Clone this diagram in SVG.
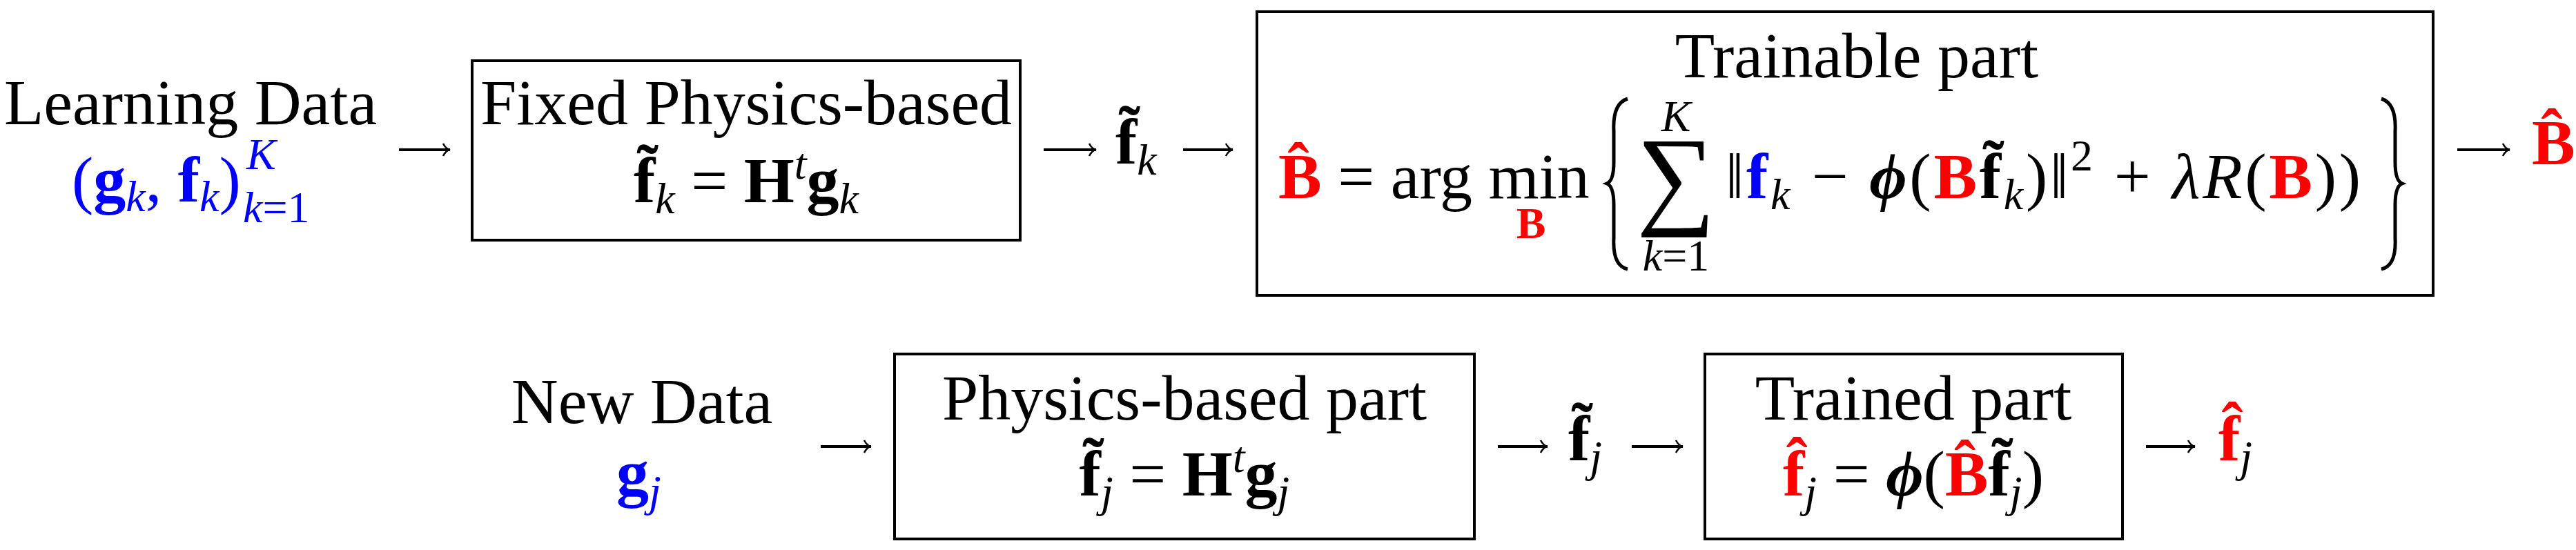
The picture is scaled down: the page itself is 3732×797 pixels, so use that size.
<svg xmlns="http://www.w3.org/2000/svg" width="3732" height="797" viewBox="0 0 3732 797">
<defs>
<marker id="ah" markerWidth="14" markerHeight="20" refX="12" refY="10" orient="auto" markerUnits="userSpaceOnUse">
<path d="M2,1 Q6,9 12,10 Q6,11 2,19" fill="none" stroke="#000" stroke-width="2.5"/>
</marker>
</defs>
<style>
text{font-family:"Liberation Serif","DejaVu Serif",serif;font-size:94px;fill:#000}
.b{font-weight:bold}.i{font-style:italic}.s{font-size:64px}
.blue{fill:#0000ff}.red{fill:#ff0000}
.box{fill:none;stroke:#000;stroke-width:4}
.arr{stroke:#000;stroke-width:4;fill:none;marker-end:url(#ah)}
.brace{fill:none;stroke:#000;stroke-width:5}
</style>
<g id="learning-data">
<text x="276" y="180" text-anchor="middle">Learning Data</text>
<text x="104" y="292" class="blue">(<tspan class="b">g</tspan><tspan class="i s" dy="14">k</tspan><tspan dy="-14">, </tspan><tspan class="b">f</tspan><tspan class="i s" dy="14">k</tspan><tspan dy="-14">)</tspan></text>
<text x="357" y="245" class="blue i s">K</text>
<text x="352" y="322" class="blue s"><tspan class="i">k</tspan>=1</text>
</g>
<g id="fixed-physics">
<rect class="box" x="684" y="88" width="794" height="260"/>
<text x="1081" y="180" text-anchor="middle">Fixed Physics-based</text>
<text x="1081" y="293" text-anchor="middle"><tspan class="b">f̃</tspan><tspan class="i s" dy="16">k</tspan><tspan dy="-16"> = </tspan><tspan class="b">H</tspan><tspan class="i s" dy="-34">t</tspan><tspan class="b" dy="34">g</tspan><tspan class="i s" dy="16">k</tspan></text>
</g>
<g id="ftilde-k">
<text x="1616" y="237"><tspan class="b">f̃</tspan><tspan class="i s" dy="16">k</tspan></text>
</g>
<g id="trainable">
<rect class="box" x="1821" y="17" width="1704" height="411"/>
<text x="2690" y="112" text-anchor="middle">Trainable part</text>
<text x="1852" y="287"><tspan class="b red">B̂</tspan><tspan> = arg min</tspan></text>
<text x="2218" y="345" class="b red s" text-anchor="middle">B</text>
<path class="brace" d="M2358,143 Q2336,150 2338,190 L2338,235 Q2338,262 2328,266 Q2338,270 2338,297 L2338,345 Q2336,385 2358,390"/>
<text x="2428" y="310" text-anchor="middle" style="font-size:160px">∑</text>
<text x="2428" y="190" text-anchor="middle" class="i s">K</text>
<text x="2428" y="392" text-anchor="middle" class="s"><tspan class="i">k</tspan>=1</text>
<text x="2500" y="287" textLength="920" lengthAdjust="spacing">‖<tspan class="b blue">f</tspan><tspan class="i s" dy="16">k</tspan><tspan dy="-16"> − </tspan><tspan class="b i">ϕ</tspan>(<tspan class="b red">B</tspan><tspan class="b">f̃</tspan><tspan class="i s" dy="16">k</tspan><tspan dy="-16">)‖</tspan><tspan class="s" dy="-40">2</tspan><tspan dy="40"> + </tspan><tspan class="i">λR</tspan>(<tspan class="b red">B</tspan>))</text>
<path class="brace" d="M3450,143 Q3472,150 3470,190 L3470,235 Q3470,262 3480,266 Q3470,270 3470,297 L3470,345 Q3472,385 3450,390"/>
</g>
<g id="bhat-out">
<text x="3668" y="238" class="b red">B̂</text>
</g>
<g id="new-data">
<text x="930" y="613" text-anchor="middle">New Data</text>
<text x="893" y="717" class="blue"><tspan class="b">g</tspan><tspan class="i s" dy="16">j</tspan></text>
</g>
<g id="physics-part">
<rect class="box" x="1296" y="513" width="840" height="268"/>
<text x="1716" y="608" text-anchor="middle">Physics-based part</text>
<text x="1716" y="718" text-anchor="middle"><tspan class="b">f̃</tspan><tspan class="i s" dy="16">j</tspan><tspan dy="-16"> = </tspan><tspan class="b">H</tspan><tspan class="i s" dy="-34">t</tspan><tspan class="b" dy="34">g</tspan><tspan class="i s" dy="16">j</tspan></text>
</g>
<g id="ftilde-j">
<text x="2272" y="667"><tspan class="b">f̃</tspan><tspan class="i s" dy="16">j</tspan></text>
</g>
<g id="trained-part">
<rect class="box" x="2470" y="513" width="605" height="268"/>
<text x="2772" y="608" text-anchor="middle">Trained part</text>
<text x="2772" y="718" text-anchor="middle"><tspan class="b red">f̂</tspan><tspan class="i s" dy="16">j</tspan><tspan dy="-16"> = </tspan><tspan class="b i">ϕ</tspan>(<tspan class="b red">B̂</tspan><tspan class="b">f̃</tspan><tspan class="i s" dy="16">j</tspan><tspan dy="-16">)</tspan></text>
</g>
<g id="fhat-out">
<text x="3214" y="667"><tspan class="b red">f̂</tspan><tspan class="i s" dy="16">j</tspan></text>
</g>
<g id="connectors">
<path class="arr" d="M578,217 H652"/>
<path class="arr" d="M1512,217 H1588"/>
<path class="arr" d="M1714,217 H1786"/>
<path class="arr" d="M3560,217 H3636"/>
<path class="arr" d="M1189,647 H1262"/>
<path class="arr" d="M2170,647 H2242"/>
<path class="arr" d="M2364,647 H2438"/>
<path class="arr" d="M3109,647 H3180"/>
</g>
</svg>
